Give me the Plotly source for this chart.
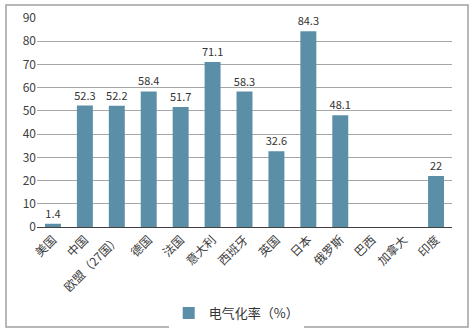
import plotly.graph_objects as go

categories = ["美国", "中国", "欧盟（27国）", "德国", "法国", "意大利", "西班牙", "英国", "日本", "俄罗斯", "巴西", "加拿大", "印度"]
values = [1.4, 52.3, 52.2, 58.4, 51.7, 71.1, 58.3, 32.6, 84.3, 48.1, None, None, 22]
labels = ["" if v is None else f"{v:g}" for v in values]
series_name = "电气化率（%）"

font = "Microsoft YaHei, Noto Sans CJK SC, sans-serif"

fig = go.Figure()
fig.add_trace(go.Bar(
    x=categories, y=values, name=series_name,
    marker=dict(color="#5b8fa8", line=dict(width=0)),
    width=0.5,
    text=labels, textposition="outside", constraintext="none",
    textfont=dict(size=11, color="#333333"),
    cliponaxis=False,
))

fig.update_layout(
    width=474, height=333,
    margin=dict(l=37, r=22, t=18, b=106),
    paper_bgcolor="white", plot_bgcolor="white",
    font=dict(family=font, size=11, color="#404040"),
    showlegend=True,
    legend=dict(orientation="h", x=0.48, xanchor="center", yref="container", y=0.06, yanchor="middle",
                font=dict(size=13, color="#333333"), itemwidth=30),
    xaxis=dict(tickangle=-45, showgrid=False, showline=True, linecolor="#404040", linewidth=1,
               ticks="", tickfont=dict(size=12, color="#404040"), automargin=False),
    yaxis=dict(range=[0, 90], dtick=10, showgrid=True, gridcolor="#a6a6a6", gridwidth=1,
               zeroline=False, showline=False, ticks="", automargin=False,
               tickfont=dict(size=12, color="#404040")),
    shapes=[dict(type="rect", xref="paper", yref="paper",
                 x0=-0.0747, x1=1.0386, y0=-0.478, y1=1.062,
                 line=dict(color="#a0a0a0", width=1.5), fillcolor="rgba(0,0,0,0)", layer="below")],
)

fig.write_html("out.html")
